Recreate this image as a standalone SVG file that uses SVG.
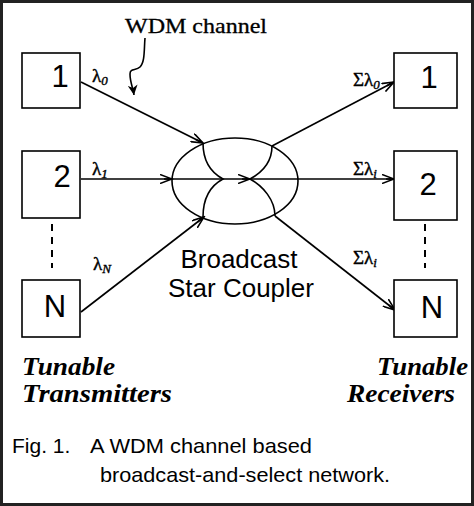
<svg xmlns="http://www.w3.org/2000/svg" width="474" height="506" viewBox="0 0 474 506">
<defs>
<marker id="ah" markerWidth="14" markerHeight="10" refX="12" refY="5" orient="auto" markerUnits="userSpaceOnUse">
<path d="M0,0.5 L12,5 L0,9.5 M4,5 L12,5" fill="none" stroke="#000" stroke-width="1.6"/>
</marker>
<marker id="ahf" markerWidth="12" markerHeight="10" refX="10" refY="5" orient="auto" markerUnits="userSpaceOnUse">
<path d="M0,0 L10,5 L0,10 L3,5 Z" fill="#000"/>
</marker>
<style>
.box{fill:#fff;stroke:#000;stroke-width:1.6}
.num{font-family:"Liberation Sans",Arial,sans-serif;font-size:31px;fill:#000;text-anchor:middle}
.ln{fill:none;stroke:#000;stroke-width:1.6}
.lam{font-family:"Liberation Serif","Times New Roman",serif;font-size:19px;fill:#000;stroke:#000;stroke-width:0.4}
.sub{font-size:13px;font-style:italic}
.sans{font-family:"Liberation Sans",Arial,sans-serif;fill:#000}
.bi{font-family:"Liberation Serif","Times New Roman",serif;font-style:italic;font-weight:bold;font-size:26px;fill:#000}
.dash{stroke:#000;stroke-width:2;stroke-dasharray:7,6}
</style>
</defs>
<rect x="0" y="0" width="474" height="506" fill="#fff"/>
<rect x="1.5" y="1.5" width="471" height="503" fill="none" stroke="#222" stroke-width="3"/>

<g id="connectors">
<line class="ln" x1="81" y1="82" x2="203" y2="143" marker-end="url(#ah)"/>
<line class="ln" x1="81" y1="179" x2="172" y2="179" marker-end="url(#ah)"/>
<line class="ln" x1="172" y1="179" x2="250" y2="179" marker-end="url(#ah)"/>
<line class="ln" x1="250" y1="179" x2="394" y2="179" marker-end="url(#ah)"/>
<line class="ln" x1="81" y1="312" x2="204" y2="217" marker-end="url(#ah)"/>
<line class="ln" x1="272" y1="146" x2="394" y2="82" marker-end="url(#ah)"/>
<line class="ln" x1="275" y1="216" x2="395" y2="310" marker-end="url(#ah)"/>
<path class="ln" d="M145,38 C144,50 145,62 140,67 C136,71 130,68 130,74 C130,82 133,88 134,95" stroke-width="2" marker-end="url(#ahf)"/>
<line class="dash" x1="52" y1="224" x2="52" y2="268"/>
<line class="dash" x1="425" y1="224" x2="425" y2="268"/>
</g>

<g id="coupler">
<ellipse cx="235" cy="181" rx="63" ry="43" class="ln" stroke-width="1.8"/>
<path class="ln" stroke-width="1.8" d="M203,143 C203,160 210,172 223,179 C210,186 203,198 203,217"/>
<path class="ln" stroke-width="1.8" d="M272,146 C272,162 263,172 250,179 C263,186 275,200 275,216"/>
<text class="sans" x="239" y="268" font-size="26" text-anchor="middle">Broadcast</text>
<text class="sans" x="241" y="297" font-size="26" text-anchor="middle">Star Coupler</text>
</g>

<g id="wdm-label">
<text x="196" y="33" font-family="'Liberation Serif','Times New Roman',serif" font-size="21" text-anchor="middle" textLength="142" lengthAdjust="spacingAndGlyphs" stroke="#000" stroke-width="0.3">WDM channel</text>
</g>

<g id="tx1"><rect class="box" x="22" y="53" width="58" height="55"/><text class="num" x="60" y="87">1</text></g>
<g id="tx2"><rect class="box" x="22" y="151" width="58" height="67"/><text class="num" x="62" y="187">2</text></g>
<g id="txN"><rect class="box" x="22" y="280" width="58" height="57"/><text class="num" x="55" y="317">N</text></g>
<g id="rx1"><rect class="box" x="394" y="53" width="63" height="55"/><text class="num" x="429" y="88">1</text></g>
<g id="rx2"><rect class="box" x="394" y="151" width="63" height="69"/><text class="num" x="428" y="195">2</text></g>
<g id="rxN"><rect class="box" x="394" y="280" width="63" height="57"/><text class="num" x="432" y="318">N</text></g>

<g id="labels">
<text class="lam" x="92" y="82">λ<tspan class="sub" dy="3">0</tspan></text>
<text class="lam" x="92" y="175">λ<tspan class="sub" dy="3">1</tspan></text>
<text class="lam" x="93" y="270">λ<tspan class="sub" dy="3">N</tspan></text>
<text class="lam" x="353" y="86">Σλ<tspan class="sub" dy="3">0</tspan></text>
<text class="lam" x="353" y="175">Σλ<tspan class="sub" dy="3">i</tspan></text>
<text class="lam" x="353" y="264">Σλ<tspan class="sub" dy="3">i</tspan></text>
</g>

<g id="captions">
<text class="bi" x="22" y="375" textLength="93" lengthAdjust="spacingAndGlyphs">Tunable</text>
<text class="bi" x="22" y="402" textLength="150" lengthAdjust="spacingAndGlyphs">Transmitters</text>
<text class="bi" x="377" y="375" textLength="91" lengthAdjust="spacingAndGlyphs">Tunable</text>
<text class="bi" x="347" y="402" textLength="108" lengthAdjust="spacingAndGlyphs">Receivers</text>
<text class="sans" x="12" y="453" font-size="21">Fig. 1.</text>
<text class="sans" x="90" y="453" font-size="21" textLength="222" lengthAdjust="spacingAndGlyphs">A WDM channel based</text>
<text class="sans" x="100" y="482" font-size="21" textLength="290" lengthAdjust="spacingAndGlyphs">broadcast-and-select network.</text>
</g>
</svg>
